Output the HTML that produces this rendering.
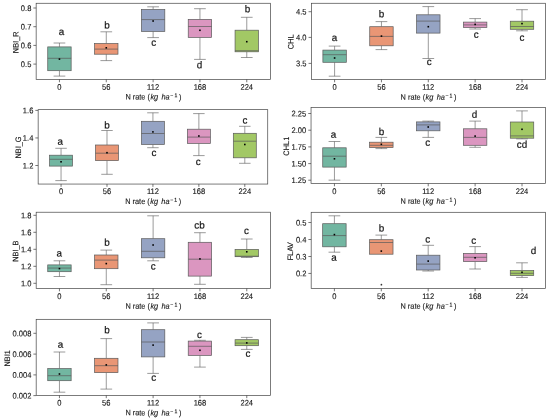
<!DOCTYPE html>
<html><head><meta charset="utf-8"><title>Boxplots</title><style>html,body{margin:0;padding:0;background:#fff}svg{display:block}</style></head><body>
<svg width="550" height="420" viewBox="0 0 550 420" font-family="Liberation Sans, sans-serif" text-rendering="geometricPrecision">
<rect width="550" height="420" fill="#fff"/>
<g stroke="#5a5a5a" stroke-width="0.7" fill="none">
<path d="M59.45 46.90V43.00M53.60 43.00H65.30M59.45 70.70V76.10M53.60 76.10H65.30" stroke="#5c5c5c" stroke-width="0.62"/>
<rect x="47.74" y="46.90" width="23.41" height="23.80" fill="#72b6a1"/>
<path d="M47.74 58.30H71.16"/>
</g>
<rect x="58.65" y="58.30" width="1.6" height="1.6" fill="#000"/>
<g stroke="#5a5a5a" stroke-width="0.7" fill="none">
<path d="M106.28 43.50V31.80M100.43 31.80H112.13M106.28 54.20V60.60M100.43 60.60H112.13" stroke="#5c5c5c" stroke-width="0.62"/>
<rect x="94.57" y="43.50" width="23.41" height="10.70" fill="#e99675"/>
<path d="M94.57 49.10H117.99"/>
</g>
<rect x="105.48" y="47.00" width="1.6" height="1.6" fill="#000"/>
<g stroke="#5a5a5a" stroke-width="0.7" fill="none">
<path d="M153.11 9.50V6.80M147.26 6.80H158.96M153.11 31.40V37.60M147.26 37.60H158.96" stroke="#5c5c5c" stroke-width="0.62"/>
<rect x="141.40" y="9.50" width="23.41" height="21.90" fill="#95a3c3"/>
<path d="M141.40 19.60H164.82"/>
</g>
<rect x="152.31" y="20.20" width="1.6" height="1.6" fill="#000"/>
<g stroke="#5a5a5a" stroke-width="0.7" fill="none">
<path d="M199.94 19.40V8.70M194.09 8.70H205.79M199.94 37.40V59.40M194.09 59.40H205.79" stroke="#5c5c5c" stroke-width="0.62"/>
<rect x="188.23" y="19.40" width="23.41" height="18.00" fill="#db96c0"/>
<path d="M188.23 26.50H211.65"/>
</g>
<rect x="199.14" y="29.50" width="1.6" height="1.6" fill="#000"/>
<g stroke="#5a5a5a" stroke-width="0.7" fill="none">
<path d="M246.77 30.20V17.30M240.92 17.30H252.62M246.77 51.80V57.50M240.92 57.50H252.62" stroke="#5c5c5c" stroke-width="0.62"/>
<rect x="235.06" y="30.20" width="23.41" height="21.60" fill="#a2c865"/>
<path d="M235.06 50.70H258.48"/>
</g>
<rect x="245.97" y="40.90" width="1.6" height="1.6" fill="#000"/>
<rect x="36.15" y="3.27" width="234.40" height="76.18" fill="none" stroke="#444" stroke-width="0.7"/>
<path d="M36.15 8.0h-2.8M36.15 26.7h-2.8M36.15 45.4h-2.8M36.15 64.1h-2.8M59.45 79.45v2.8M106.28 79.45v2.8M153.11 79.45v2.8M199.94 79.45v2.8M246.77 79.45v2.8" stroke="#3c3c3c" stroke-width="0.7" fill="none"/>
<g font-size="8.1" fill="#151515" stroke="#151515" stroke-width="0.12">
<text transform="translate(31.35 10.90) rotate(0.1) scale(0.93 1)" text-anchor="end">0.8</text>
<text transform="translate(31.35 29.60) rotate(0.1) scale(0.93 1)" text-anchor="end">0.7</text>
<text transform="translate(31.35 48.30) rotate(0.1) scale(0.93 1)" text-anchor="end">0.6</text>
<text transform="translate(31.35 67.00) rotate(0.1) scale(0.93 1)" text-anchor="end">0.5</text>
<text transform="translate(59.45 89.80) rotate(0.1) scale(0.93 1)" text-anchor="middle">0</text>
<text transform="translate(106.28 89.80) rotate(0.1) scale(0.93 1)" text-anchor="middle">56</text>
<text transform="translate(153.11 89.80) rotate(0.1) scale(0.93 1)" text-anchor="middle">112</text>
<text transform="translate(199.94 89.80) rotate(0.1) scale(0.93 1)" text-anchor="middle">168</text>
<text transform="translate(246.77 89.80) rotate(0.1) scale(0.93 1)" text-anchor="middle">224</text>
<text transform="translate(153.31 99.60) rotate(0.1) scale(0.925 1)" font-size="7.95"><tspan x="-30.16">N rate (</tspan><tspan font-style="italic" x="-3.14">kg</tspan><tspan font-style="italic" x="8.86">ha</tspan><tspan font-size="5.56" stroke-width="0.15" x="18.38" dy="-2.3">−</tspan><tspan font-size="5.56" stroke-width="0.15" x="22.81">1</tspan><tspan x="27.68" dy="2.3">)</tspan></text>
<text transform="translate(18.40 42.30) rotate(-89.9) scale(0.93 1)" text-anchor="middle" font-size="7.95">NBI_R</text>
</g>
<g font-size="9.9" fill="#111" stroke="#111" stroke-width="0.18" text-anchor="middle">
<text transform="translate(61.5 34.9) rotate(0.1) scale(1.0 1)">a</text>
<text transform="translate(106.9 28.5) rotate(0.1) scale(1.0 1)">b</text>
<text transform="translate(153.7 45.8) rotate(0.1) scale(1.0 1)">c</text>
<text transform="translate(199.5 68.2) rotate(0.1) scale(1.0 1)">d</text>
<text transform="translate(247.5 12.3) rotate(0.1) scale(1.0 1)">b</text>
</g>
<g stroke="#5a5a5a" stroke-width="0.7" fill="none">
<path d="M334.60 50.10V46.10M328.74 46.10H340.46M334.60 62.30V76.20M328.74 76.20H340.46" stroke="#5c5c5c" stroke-width="0.62"/>
<rect x="322.89" y="50.10" width="23.43" height="12.20" fill="#72b6a1"/>
<path d="M322.89 54.70H346.31"/>
</g>
<rect x="333.80" y="57.20" width="1.6" height="1.6" fill="#000"/>
<g stroke="#5a5a5a" stroke-width="0.7" fill="none">
<path d="M381.45 26.70V21.60M375.59 21.60H387.31M381.45 45.80V49.60M375.59 49.60H387.31" stroke="#5c5c5c" stroke-width="0.62"/>
<rect x="369.74" y="26.70" width="23.43" height="19.10" fill="#e99675"/>
<path d="M369.74 36.40H393.16"/>
</g>
<rect x="380.65" y="35.30" width="1.6" height="1.6" fill="#000"/>
<g stroke="#5a5a5a" stroke-width="0.7" fill="none">
<path d="M428.30 14.80V6.60M422.44 6.60H434.16M428.30 33.10V58.50M422.44 58.50H434.16" stroke="#5c5c5c" stroke-width="0.62"/>
<rect x="416.59" y="14.80" width="23.43" height="18.30" fill="#95a3c3"/>
<path d="M416.59 21.10H440.01"/>
</g>
<rect x="427.50" y="25.90" width="1.6" height="1.6" fill="#000"/>
<g stroke="#5a5a5a" stroke-width="0.7" fill="none">
<path d="M475.15 22.10V18.60M469.29 18.60H481.01M475.15 27.50V29.00M469.29 29.00H481.01" stroke="#5c5c5c" stroke-width="0.62"/>
<rect x="463.44" y="22.10" width="23.43" height="5.40" fill="#db96c0"/>
<path d="M463.44 24.90H486.86"/>
</g>
<rect x="474.35" y="23.60" width="1.6" height="1.6" fill="#000"/>
<g stroke="#5a5a5a" stroke-width="0.7" fill="none">
<path d="M522.00 21.20V9.70M516.14 9.70H527.86M522.00 29.30V30.80M516.14 30.80H527.86" stroke="#5c5c5c" stroke-width="0.62"/>
<rect x="510.29" y="21.20" width="23.43" height="8.10" fill="#a2c865"/>
<path d="M510.29 26.50H533.71"/>
</g>
<rect x="521.20" y="22.80" width="1.6" height="1.6" fill="#000"/>
<rect x="311.35" y="3.27" width="234.29" height="76.23" fill="none" stroke="#444" stroke-width="0.7"/>
<path d="M311.35 11.7h-2.8M311.35 37.4h-2.8M311.35 63.4h-2.8M334.60 79.5v2.8M381.45 79.5v2.8M428.30 79.5v2.8M475.15 79.5v2.8M522.00 79.5v2.8" stroke="#3c3c3c" stroke-width="0.7" fill="none"/>
<g font-size="8.1" fill="#151515" stroke="#151515" stroke-width="0.12">
<text transform="translate(306.55 14.60) rotate(0.1) scale(0.93 1)" text-anchor="end">4.5</text>
<text transform="translate(306.55 40.30) rotate(0.1) scale(0.93 1)" text-anchor="end">4.0</text>
<text transform="translate(306.55 66.30) rotate(0.1) scale(0.93 1)" text-anchor="end">3.5</text>
<text transform="translate(334.60 89.80) rotate(0.1) scale(0.93 1)" text-anchor="middle">0</text>
<text transform="translate(381.45 89.80) rotate(0.1) scale(0.93 1)" text-anchor="middle">56</text>
<text transform="translate(428.30 89.80) rotate(0.1) scale(0.93 1)" text-anchor="middle">112</text>
<text transform="translate(475.15 89.80) rotate(0.1) scale(0.93 1)" text-anchor="middle">168</text>
<text transform="translate(522.00 89.80) rotate(0.1) scale(0.93 1)" text-anchor="middle">224</text>
<text transform="translate(428.50 99.70) rotate(0.1) scale(0.925 1)" font-size="7.95"><tspan x="-30.16">N rate (</tspan><tspan font-style="italic" x="-3.14">kg</tspan><tspan font-style="italic" x="8.86">ha</tspan><tspan font-size="5.56" stroke-width="0.15" x="18.38" dy="-2.3">−</tspan><tspan font-size="5.56" stroke-width="0.15" x="22.81">1</tspan><tspan x="27.68" dy="2.3">)</tspan></text>
<text transform="translate(293.50 41.80) rotate(-89.9) scale(0.93 1)" text-anchor="middle" font-size="7.95">CHL</text>
</g>
<g font-size="9.9" fill="#111" stroke="#111" stroke-width="0.18" text-anchor="middle">
<text transform="translate(334.5 40.9) rotate(0.1) scale(1.0 1)">a</text>
<text transform="translate(381.4 17.3) rotate(0.1) scale(1.0 1)">b</text>
<text transform="translate(429.1 64.9) rotate(0.1) scale(1.0 1)">c</text>
<text transform="translate(476.2 37.7) rotate(0.1) scale(1.0 1)">c</text>
<text transform="translate(522 40.7) rotate(0.1) scale(1.0 1)">c</text>
</g>
<g stroke="#5a5a5a" stroke-width="0.7" fill="none">
<path d="M61.05 155.20V148.30M55.31 148.30H66.79M61.05 166.10V180.60M55.31 180.60H66.79" stroke="#5c5c5c" stroke-width="0.62"/>
<rect x="49.56" y="155.20" width="22.97" height="10.90" fill="#72b6a1"/>
<path d="M49.56 159.30H72.53"/>
</g>
<rect x="60.25" y="161.00" width="1.6" height="1.6" fill="#000"/>
<g stroke="#5a5a5a" stroke-width="0.7" fill="none">
<path d="M106.99 145.00V130.50M101.25 130.50H112.73M106.99 160.60V174.30M101.25 174.30H112.73" stroke="#5c5c5c" stroke-width="0.62"/>
<rect x="95.50" y="145.00" width="22.97" height="15.60" fill="#e99675"/>
<path d="M95.50 153.20H118.47"/>
</g>
<rect x="106.19" y="151.90" width="1.6" height="1.6" fill="#000"/>
<g stroke="#5a5a5a" stroke-width="0.7" fill="none">
<path d="M152.93 121.30V112.80M147.19 112.80H158.67M152.93 144.50V147.70M147.19 147.70H158.67" stroke="#5c5c5c" stroke-width="0.62"/>
<rect x="141.44" y="121.30" width="22.97" height="23.20" fill="#95a3c3"/>
<path d="M141.44 133.50H164.42"/>
</g>
<rect x="152.13" y="131.10" width="1.6" height="1.6" fill="#000"/>
<g stroke="#5a5a5a" stroke-width="0.7" fill="none">
<path d="M198.87 129.20V113.60M193.13 113.60H204.61M198.87 143.40V155.60M193.13 155.60H204.61" stroke="#5c5c5c" stroke-width="0.62"/>
<rect x="187.38" y="129.20" width="22.97" height="14.20" fill="#db96c0"/>
<path d="M187.38 137.10H210.36"/>
</g>
<rect x="198.07" y="135.20" width="1.6" height="1.6" fill="#000"/>
<g stroke="#5a5a5a" stroke-width="0.7" fill="none">
<path d="M244.81 133.30V126.30M239.07 126.30H250.55M244.81 157.80V163.30M239.07 163.30H250.55" stroke="#5c5c5c" stroke-width="0.62"/>
<rect x="233.32" y="133.30" width="22.97" height="24.50" fill="#a2c865"/>
<path d="M233.32 141.20H256.30"/>
</g>
<rect x="244.01" y="143.70" width="1.6" height="1.6" fill="#000"/>
<rect x="38.15" y="109.65" width="229.58" height="74.40" fill="none" stroke="#444" stroke-width="0.7"/>
<path d="M38.15 110.4h-2.8M38.15 137.95h-2.8M38.15 165.5h-2.8M61.05 184.05v2.8M106.99 184.05v2.8M152.93 184.05v2.8M198.87 184.05v2.8M244.81 184.05v2.8" stroke="#3c3c3c" stroke-width="0.7" fill="none"/>
<g font-size="8.1" fill="#151515" stroke="#151515" stroke-width="0.12">
<text transform="translate(33.35 113.30) rotate(0.1) scale(0.93 1)" text-anchor="end">1.6</text>
<text transform="translate(33.35 140.85) rotate(0.1) scale(0.93 1)" text-anchor="end">1.4</text>
<text transform="translate(33.35 168.40) rotate(0.1) scale(0.93 1)" text-anchor="end">1.2</text>
<text transform="translate(61.05 194.00) rotate(0.1) scale(0.93 1)" text-anchor="middle">0</text>
<text transform="translate(106.99 194.00) rotate(0.1) scale(0.93 1)" text-anchor="middle">56</text>
<text transform="translate(152.93 194.00) rotate(0.1) scale(0.93 1)" text-anchor="middle">112</text>
<text transform="translate(198.87 194.00) rotate(0.1) scale(0.93 1)" text-anchor="middle">168</text>
<text transform="translate(244.81 194.00) rotate(0.1) scale(0.93 1)" text-anchor="middle">224</text>
<text transform="translate(153.13 204.00) rotate(0.1) scale(0.925 1)" font-size="7.95"><tspan x="-30.16">N rate (</tspan><tspan font-style="italic" x="-3.14">kg</tspan><tspan font-style="italic" x="8.86">ha</tspan><tspan font-size="5.56" stroke-width="0.15" x="18.38" dy="-2.3">−</tspan><tspan font-size="5.56" stroke-width="0.15" x="22.81">1</tspan><tspan x="27.68" dy="2.3">)</tspan></text>
<text transform="translate(20.90 147.50) rotate(-89.9) scale(0.93 1)" text-anchor="middle" font-size="7.95">NBI_G</text>
</g>
<g font-size="9.9" fill="#111" stroke="#111" stroke-width="0.18" text-anchor="middle">
<text transform="translate(60.3 144.8) rotate(0.1) scale(1.0 1)">a</text>
<text transform="translate(107.1 128.5) rotate(0.1) scale(1.0 1)">b</text>
<text transform="translate(154 155.9) rotate(0.1) scale(1.0 1)">c</text>
<text transform="translate(198.2 164.9) rotate(0.1) scale(1.0 1)">c</text>
<text transform="translate(245.0 123.6) rotate(0.1) scale(1.0 1)">c</text>
</g>
<g stroke="#5a5a5a" stroke-width="0.7" fill="none">
<path d="M334.45 147.80V141.50M328.59 141.50H340.31M334.45 167.10V180.15M328.59 180.15H340.31" stroke="#5c5c5c" stroke-width="0.62"/>
<rect x="322.73" y="147.80" width="23.45" height="19.30" fill="#72b6a1"/>
<path d="M322.73 156.20H346.17"/>
</g>
<rect x="333.65" y="158.00" width="1.6" height="1.6" fill="#000"/>
<g stroke="#5a5a5a" stroke-width="0.7" fill="none">
<path d="M381.34 142.20V137.40M375.48 137.40H387.20M381.34 147.60V148.60M375.48 148.60H387.20" stroke="#5c5c5c" stroke-width="0.62"/>
<rect x="369.62" y="142.20" width="23.45" height="5.40" fill="#e99675"/>
<path d="M369.62 145.30H393.06"/>
</g>
<rect x="380.54" y="143.50" width="1.6" height="1.6" fill="#000"/>
<g stroke="#5a5a5a" stroke-width="0.7" fill="none">
<path d="M428.23 121.90V121.10M422.37 121.10H434.09M428.23 130.80V137.40M422.37 137.40H434.09" stroke="#5c5c5c" stroke-width="0.62"/>
<rect x="416.51" y="121.90" width="23.45" height="8.90" fill="#95a3c3"/>
<path d="M416.51 124.90H439.95"/>
</g>
<rect x="427.43" y="126.20" width="1.6" height="1.6" fill="#000"/>
<g stroke="#5a5a5a" stroke-width="0.7" fill="none">
<path d="M475.12 128.80V121.10M469.26 121.10H480.98M475.12 145.30V147.30M469.26 147.30H480.98" stroke="#5c5c5c" stroke-width="0.62"/>
<rect x="463.40" y="128.80" width="23.45" height="16.50" fill="#db96c0"/>
<path d="M463.40 137.40H486.84"/>
</g>
<rect x="474.32" y="135.30" width="1.6" height="1.6" fill="#000"/>
<g stroke="#5a5a5a" stroke-width="0.7" fill="none">
<path d="M522.01 122.00V110.90M516.15 110.90H527.87M522.01 138.20V138.90M516.15 138.90H527.87" stroke="#5c5c5c" stroke-width="0.62"/>
<rect x="510.29" y="122.00" width="23.45" height="16.20" fill="#a2c865"/>
<path d="M510.29 135.90H533.73"/>
</g>
<rect x="521.21" y="128.50" width="1.6" height="1.6" fill="#000"/>
<rect x="311.04" y="107.49" width="234.60" height="76.01" fill="none" stroke="#444" stroke-width="0.7"/>
<path d="M311.04 113.5h-2.8M311.04 130.2h-2.8M311.04 146.9h-2.8M311.04 163.6h-2.8M311.04 180.2h-2.8M334.45 183.5v2.8M381.34 183.5v2.8M428.23 183.5v2.8M475.12 183.5v2.8M522.01 183.5v2.8" stroke="#3c3c3c" stroke-width="0.7" fill="none"/>
<g font-size="8.1" fill="#151515" stroke="#151515" stroke-width="0.12">
<text transform="translate(306.24 116.40) rotate(0.1) scale(0.93 1)" text-anchor="end">2.25</text>
<text transform="translate(306.24 133.10) rotate(0.1) scale(0.93 1)" text-anchor="end">2.00</text>
<text transform="translate(306.24 149.80) rotate(0.1) scale(0.93 1)" text-anchor="end">1.75</text>
<text transform="translate(306.24 166.50) rotate(0.1) scale(0.93 1)" text-anchor="end">1.50</text>
<text transform="translate(306.24 183.10) rotate(0.1) scale(0.93 1)" text-anchor="end">1.25</text>
<text transform="translate(334.45 194.00) rotate(0.1) scale(0.93 1)" text-anchor="middle">0</text>
<text transform="translate(381.34 194.00) rotate(0.1) scale(0.93 1)" text-anchor="middle">56</text>
<text transform="translate(428.23 194.00) rotate(0.1) scale(0.93 1)" text-anchor="middle">112</text>
<text transform="translate(475.12 194.00) rotate(0.1) scale(0.93 1)" text-anchor="middle">168</text>
<text transform="translate(522.01 194.00) rotate(0.1) scale(0.93 1)" text-anchor="middle">224</text>
<text transform="translate(428.43 203.70) rotate(0.1) scale(0.925 1)" font-size="7.95"><tspan x="-30.16">N rate (</tspan><tspan font-style="italic" x="-3.14">kg</tspan><tspan font-style="italic" x="8.86">ha</tspan><tspan font-size="5.56" stroke-width="0.15" x="18.38" dy="-2.3">−</tspan><tspan font-size="5.56" stroke-width="0.15" x="22.81">1</tspan><tspan x="27.68" dy="2.3">)</tspan></text>
<text transform="translate(288.90 146.20) rotate(-89.9) scale(0.93 1)" text-anchor="middle" font-size="7.95">CHL1</text>
</g>
<g font-size="9.9" fill="#111" stroke="#111" stroke-width="0.18" text-anchor="middle">
<text transform="translate(333.5 137.7) rotate(0.1) scale(1.0 1)">a</text>
<text transform="translate(381.4 135.1) rotate(0.1) scale(1.0 1)">b</text>
<text transform="translate(427.8 145.8) rotate(0.1) scale(1.0 1)">c</text>
<text transform="translate(474.4 117.8) rotate(0.1) scale(1.0 1)">d</text>
<text transform="translate(522 147.8) rotate(0.1) scale(1.0 1)">cd</text>
</g>
<g stroke="#5a5a5a" stroke-width="0.7" fill="none">
<path d="M59.45 264.90V260.80M53.60 260.80H65.30M59.45 271.70V276.50M53.60 276.50H65.30" stroke="#5c5c5c" stroke-width="0.62"/>
<rect x="47.74" y="264.90" width="23.41" height="6.80" fill="#72b6a1"/>
<path d="M47.74 268.05H71.16"/>
</g>
<rect x="58.65" y="267.80" width="1.6" height="1.6" fill="#000"/>
<g stroke="#5a5a5a" stroke-width="0.7" fill="none">
<path d="M106.28 255.00V250.10M100.43 250.10H112.13M106.28 268.70V284.70M100.43 284.70H112.13" stroke="#5c5c5c" stroke-width="0.62"/>
<rect x="94.57" y="255.00" width="23.41" height="13.70" fill="#e99675"/>
<path d="M94.57 260.10H117.99"/>
</g>
<rect x="105.48" y="262.80" width="1.6" height="1.6" fill="#000"/>
<g stroke="#5a5a5a" stroke-width="0.7" fill="none">
<path d="M153.11 238.70V215.80M147.26 215.80H158.96M153.11 257.80V260.80M147.26 260.80H158.96" stroke="#5c5c5c" stroke-width="0.62"/>
<rect x="141.40" y="238.70" width="23.41" height="19.10" fill="#95a3c3"/>
<path d="M141.40 251.30H164.82"/>
</g>
<rect x="152.31" y="244.20" width="1.6" height="1.6" fill="#000"/>
<g stroke="#5a5a5a" stroke-width="0.7" fill="none">
<path d="M199.94 242.30V232.70M194.09 232.70H205.79M199.94 276.10V284.30M194.09 284.30H205.79" stroke="#5c5c5c" stroke-width="0.62"/>
<rect x="188.23" y="242.30" width="23.41" height="33.80" fill="#db96c0"/>
<path d="M188.23 259.20H211.65"/>
</g>
<rect x="199.14" y="258.10" width="1.6" height="1.6" fill="#000"/>
<g stroke="#5a5a5a" stroke-width="0.7" fill="none">
<path d="M246.77 249.40V239.00M240.92 239.00H252.62M246.77 256.70V257.50M240.92 257.50H252.62" stroke="#5c5c5c" stroke-width="0.62"/>
<rect x="235.06" y="249.40" width="23.41" height="7.30" fill="#a2c865"/>
<path d="M235.06 256.20H258.48"/>
</g>
<rect x="245.97" y="251.00" width="1.6" height="1.6" fill="#000"/>
<rect x="36.18" y="212.22" width="234.37" height="76.28" fill="none" stroke="#444" stroke-width="0.7"/>
<path d="M36.18 215.3h-2.8M36.18 232.3h-2.8M36.18 249.3h-2.8M36.18 266.3h-2.8M36.18 283.3h-2.8M59.45 288.5v2.8M106.28 288.5v2.8M153.11 288.5v2.8M199.94 288.5v2.8M246.77 288.5v2.8" stroke="#3c3c3c" stroke-width="0.7" fill="none"/>
<g font-size="8.1" fill="#151515" stroke="#151515" stroke-width="0.12">
<text transform="translate(31.38 218.20) rotate(0.1) scale(0.93 1)" text-anchor="end">1.8</text>
<text transform="translate(31.38 235.20) rotate(0.1) scale(0.93 1)" text-anchor="end">1.6</text>
<text transform="translate(31.38 252.20) rotate(0.1) scale(0.93 1)" text-anchor="end">1.4</text>
<text transform="translate(31.38 269.20) rotate(0.1) scale(0.93 1)" text-anchor="end">1.2</text>
<text transform="translate(31.38 286.20) rotate(0.1) scale(0.93 1)" text-anchor="end">1.0</text>
<text transform="translate(59.45 299.00) rotate(0.1) scale(0.93 1)" text-anchor="middle">0</text>
<text transform="translate(106.28 299.00) rotate(0.1) scale(0.93 1)" text-anchor="middle">56</text>
<text transform="translate(153.11 299.00) rotate(0.1) scale(0.93 1)" text-anchor="middle">112</text>
<text transform="translate(199.94 299.00) rotate(0.1) scale(0.93 1)" text-anchor="middle">168</text>
<text transform="translate(246.77 299.00) rotate(0.1) scale(0.93 1)" text-anchor="middle">224</text>
<text transform="translate(153.31 308.70) rotate(0.1) scale(0.925 1)" font-size="7.95"><tspan x="-30.16">N rate (</tspan><tspan font-style="italic" x="-3.14">kg</tspan><tspan font-style="italic" x="8.86">ha</tspan><tspan font-size="5.56" stroke-width="0.15" x="18.38" dy="-2.3">−</tspan><tspan font-size="5.56" stroke-width="0.15" x="22.81">1</tspan><tspan x="27.68" dy="2.3">)</tspan></text>
<text transform="translate(18.20 251.20) rotate(-89.9) scale(0.93 1)" text-anchor="middle" font-size="7.95">NBI_B</text>
</g>
<g font-size="9.9" fill="#111" stroke="#111" stroke-width="0.18" text-anchor="middle">
<text transform="translate(59.3 256.5) rotate(0.1) scale(1.0 1)">a</text>
<text transform="translate(106.9 245.8) rotate(0.1) scale(1.0 1)">b</text>
<text transform="translate(153.2 269.6) rotate(0.1) scale(1.0 1)">c</text>
<text transform="translate(199.5 228.6) rotate(0.1) scale(1.0 1)">cb</text>
<text transform="translate(246.4 234.1) rotate(0.1) scale(1.0 1)">c</text>
</g>
<g stroke="#5a5a5a" stroke-width="0.7" fill="none">
<path d="M334.40 223.70V215.80M328.54 215.80H340.26M334.40 246.80V252.20M328.54 252.20H340.26" stroke="#5c5c5c" stroke-width="0.62"/>
<rect x="322.67" y="223.70" width="23.45" height="23.10" fill="#72b6a1"/>
<path d="M322.67 235.60H346.12"/>
</g>
<rect x="333.60" y="233.80" width="1.6" height="1.6" fill="#000"/>
<g stroke="#5a5a5a" stroke-width="0.7" fill="none">
<path d="M381.30 239.70V235.10M375.44 235.10H387.16" stroke="#5c5c5c" stroke-width="0.62"/>
<rect x="369.57" y="239.70" width="23.45" height="14.50" fill="#e99675"/>
<path d="M369.57 242.50H393.02"/>
</g>
<rect x="380.50" y="250.30" width="1.6" height="1.6" fill="#000"/>
<g stroke="#5a5a5a" stroke-width="0.7" fill="none">
<path d="M428.20 255.20V245.30M422.34 245.30H434.06M428.20 270.00V271.00M422.34 271.00H434.06" stroke="#5c5c5c" stroke-width="0.62"/>
<rect x="416.47" y="255.20" width="23.45" height="14.80" fill="#95a3c3"/>
<path d="M416.47 264.10H439.93"/>
</g>
<rect x="427.40" y="260.30" width="1.6" height="1.6" fill="#000"/>
<g stroke="#5a5a5a" stroke-width="0.7" fill="none">
<path d="M475.10 253.40V246.60M469.24 246.60H480.96M475.10 261.60V269.00M469.24 269.00H480.96" stroke="#5c5c5c" stroke-width="0.62"/>
<rect x="463.37" y="253.40" width="23.45" height="8.20" fill="#db96c0"/>
<path d="M463.37 257.30H486.82"/>
</g>
<rect x="474.30" y="257.00" width="1.6" height="1.6" fill="#000"/>
<g stroke="#5a5a5a" stroke-width="0.7" fill="none">
<path d="M522.00 270.50V262.80M516.14 262.80H527.86M522.00 275.60V277.40M516.14 277.40H527.86" stroke="#5c5c5c" stroke-width="0.62"/>
<rect x="510.27" y="270.50" width="23.45" height="5.10" fill="#a2c865"/>
<path d="M510.27 273.30H533.73"/>
</g>
<rect x="521.20" y="271.50" width="1.6" height="1.6" fill="#000"/>
<circle cx="381.4" cy="284.7" r="0.85" fill="#333"/>
<rect x="311.18" y="212.3" width="234.46" height="76.20" fill="none" stroke="#444" stroke-width="0.7"/>
<path d="M311.18 222.5h-2.8M311.18 239.5h-2.8M311.18 256.5h-2.8M311.18 273.45h-2.8M334.40 288.5v2.8M381.30 288.5v2.8M428.20 288.5v2.8M475.10 288.5v2.8M522.00 288.5v2.8" stroke="#3c3c3c" stroke-width="0.7" fill="none"/>
<g font-size="8.1" fill="#151515" stroke="#151515" stroke-width="0.12">
<text transform="translate(306.38 225.40) rotate(0.1) scale(0.93 1)" text-anchor="end">0.5</text>
<text transform="translate(306.38 242.40) rotate(0.1) scale(0.93 1)" text-anchor="end">0.4</text>
<text transform="translate(306.38 259.40) rotate(0.1) scale(0.93 1)" text-anchor="end">0.3</text>
<text transform="translate(306.38 276.35) rotate(0.1) scale(0.93 1)" text-anchor="end">0.2</text>
<text transform="translate(334.40 299.00) rotate(0.1) scale(0.93 1)" text-anchor="middle">0</text>
<text transform="translate(381.30 299.00) rotate(0.1) scale(0.93 1)" text-anchor="middle">56</text>
<text transform="translate(428.20 299.00) rotate(0.1) scale(0.93 1)" text-anchor="middle">112</text>
<text transform="translate(475.10 299.00) rotate(0.1) scale(0.93 1)" text-anchor="middle">168</text>
<text transform="translate(522.00 299.00) rotate(0.1) scale(0.93 1)" text-anchor="middle">224</text>
<text transform="translate(428.40 308.70) rotate(0.1) scale(0.925 1)" font-size="7.95"><tspan x="-30.16">N rate (</tspan><tspan font-style="italic" x="-3.14">kg</tspan><tspan font-style="italic" x="8.86">ha</tspan><tspan font-size="5.56" stroke-width="0.15" x="18.38" dy="-2.3">−</tspan><tspan font-size="5.56" stroke-width="0.15" x="22.81">1</tspan><tspan x="27.68" dy="2.3">)</tspan></text>
<text transform="translate(293.10 251.20) rotate(-89.9) scale(0.93 1)" text-anchor="middle" font-size="7.95">FLAV</text>
</g>
<g font-size="9.9" fill="#111" stroke="#111" stroke-width="0.18" text-anchor="middle">
<text transform="translate(334 260.7) rotate(0.1) scale(1.0 1)">a</text>
<text transform="translate(381.4 231.4) rotate(0.1) scale(1.0 1)">b</text>
<text transform="translate(427.8 242.6) rotate(0.1) scale(1.0 1)">c</text>
<text transform="translate(473.6 243.7) rotate(0.1) scale(1.0 1)">c</text>
<text transform="translate(533.4 253.9) rotate(0.1) scale(1.0 1)">d</text>
</g>
<g stroke="#5a5a5a" stroke-width="0.7" fill="none">
<path d="M59.45 368.60V352.00M53.60 352.00H65.30M59.45 380.70V392.20M53.60 392.20H65.30" stroke="#5c5c5c" stroke-width="0.62"/>
<rect x="47.74" y="368.60" width="23.41" height="12.10" fill="#72b6a1"/>
<path d="M47.74 375.70H71.16"/>
</g>
<rect x="58.65" y="373.20" width="1.6" height="1.6" fill="#000"/>
<g stroke="#5a5a5a" stroke-width="0.7" fill="none">
<path d="M106.28 358.30V338.60M100.43 338.60H112.13M106.28 372.60V389.10M100.43 389.10H112.13" stroke="#5c5c5c" stroke-width="0.62"/>
<rect x="94.57" y="358.30" width="23.41" height="14.30" fill="#e99675"/>
<path d="M94.57 365.70H117.99"/>
</g>
<rect x="105.48" y="364.10" width="1.6" height="1.6" fill="#000"/>
<g stroke="#5a5a5a" stroke-width="0.7" fill="none">
<path d="M153.11 329.70V322.90M147.26 322.90H158.96M153.11 356.90V373.40M147.26 373.40H158.96" stroke="#5c5c5c" stroke-width="0.62"/>
<rect x="141.40" y="329.70" width="23.41" height="27.20" fill="#95a3c3"/>
<path d="M141.40 342.00H164.82"/>
</g>
<rect x="152.31" y="344.30" width="1.6" height="1.6" fill="#000"/>
<g stroke="#5a5a5a" stroke-width="0.7" fill="none">
<path d="M199.94 341.10V340.30M194.09 340.30H205.79M199.94 355.40V367.10M194.09 367.10H205.79" stroke="#5c5c5c" stroke-width="0.62"/>
<rect x="188.23" y="341.10" width="23.41" height="14.30" fill="#db96c0"/>
<path d="M188.23 346.30H211.65"/>
</g>
<rect x="199.14" y="349.50" width="1.6" height="1.6" fill="#000"/>
<g stroke="#5a5a5a" stroke-width="0.7" fill="none">
<path d="M246.77 339.70V337.40M240.92 337.40H252.62M246.77 345.70V349.40M240.92 349.40H252.62" stroke="#5c5c5c" stroke-width="0.62"/>
<rect x="235.06" y="339.70" width="23.41" height="6.00" fill="#a2c865"/>
<path d="M235.06 343.10H258.48"/>
</g>
<rect x="245.97" y="342.10" width="1.6" height="1.6" fill="#000"/>
<rect x="36.18" y="319.33" width="234.37" height="76.03" fill="none" stroke="#444" stroke-width="0.7"/>
<path d="M36.18 333.3h-2.8M36.18 354.1h-2.8M36.18 374.9h-2.8M36.18 395.6h-2.8M59.45 395.36v2.8M106.28 395.36v2.8M153.11 395.36v2.8M199.94 395.36v2.8M246.77 395.36v2.8" stroke="#3c3c3c" stroke-width="0.7" fill="none"/>
<g font-size="8.1" fill="#151515" stroke="#151515" stroke-width="0.12">
<text transform="translate(31.38 336.20) rotate(0.1) scale(0.93 1)" text-anchor="end">0.008</text>
<text transform="translate(31.38 357.00) rotate(0.1) scale(0.93 1)" text-anchor="end">0.006</text>
<text transform="translate(31.38 377.80) rotate(0.1) scale(0.93 1)" text-anchor="end">0.004</text>
<text transform="translate(31.38 398.50) rotate(0.1) scale(0.93 1)" text-anchor="end">0.002</text>
<text transform="translate(59.45 405.60) rotate(0.1) scale(0.93 1)" text-anchor="middle">0</text>
<text transform="translate(106.28 405.60) rotate(0.1) scale(0.93 1)" text-anchor="middle">56</text>
<text transform="translate(153.11 405.60) rotate(0.1) scale(0.93 1)" text-anchor="middle">112</text>
<text transform="translate(199.94 405.60) rotate(0.1) scale(0.93 1)" text-anchor="middle">168</text>
<text transform="translate(246.77 405.60) rotate(0.1) scale(0.93 1)" text-anchor="middle">224</text>
<text transform="translate(153.31 415.40) rotate(0.1) scale(0.925 1)" font-size="7.95"><tspan x="-30.16">N rate (</tspan><tspan font-style="italic" x="-3.14">kg</tspan><tspan font-style="italic" x="8.86">ha</tspan><tspan font-size="5.56" stroke-width="0.15" x="18.38" dy="-2.3">−</tspan><tspan font-size="5.56" stroke-width="0.15" x="22.81">1</tspan><tspan x="27.68" dy="2.3">)</tspan></text>
<text transform="translate(10.00 358.40) rotate(-89.9) scale(0.93 1)" text-anchor="middle" font-size="7.95">NBI1</text>
</g>
<g font-size="9.9" fill="#111" stroke="#111" stroke-width="0.18" text-anchor="middle">
<text transform="translate(60.6 347.8) rotate(0.1) scale(1.0 1)">a</text>
<text transform="translate(107.1 333.3) rotate(0.1) scale(1.0 1)">b</text>
<text transform="translate(153.7 380.8) rotate(0.1) scale(1.0 1)">c</text>
<text transform="translate(199.4 337.9) rotate(0.1) scale(1.0 1)">c</text>
<text transform="translate(248 356.8) rotate(0.1) scale(1.0 1)">c</text>
</g>
</svg>
</body></html>
